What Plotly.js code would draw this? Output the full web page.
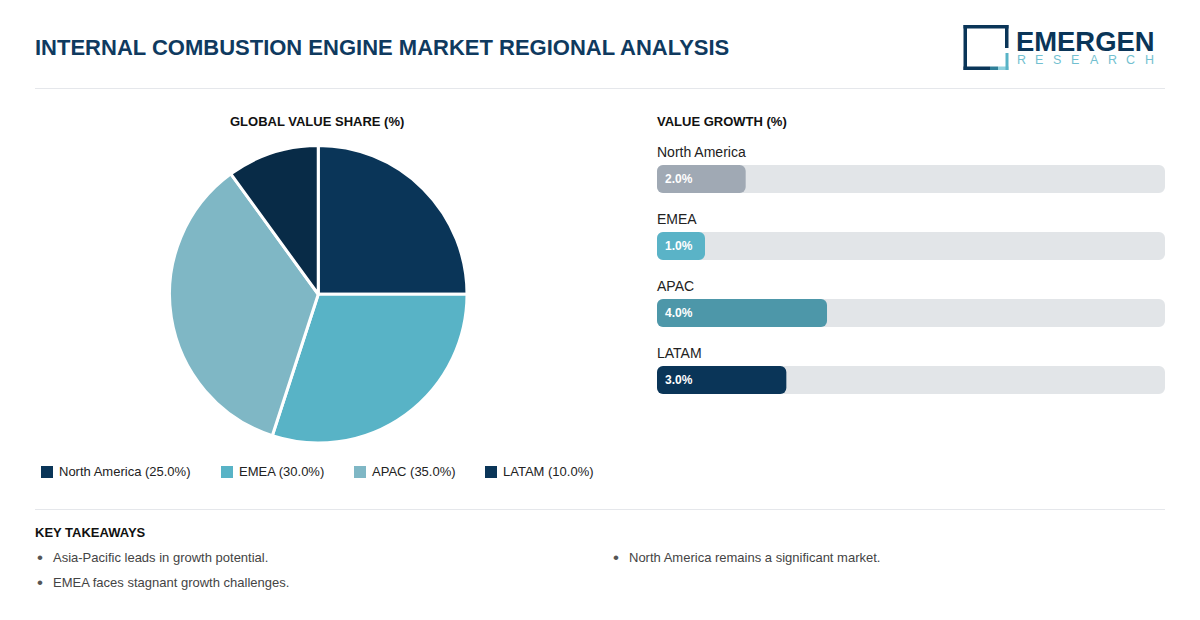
<!DOCTYPE html>
<html><head><meta charset="utf-8">
<script src="https://cdn.plot.ly/plotly-3.0.1.min.js"></script>
<style>html,body{margin:0;padding:0;background:#fff;overflow:hidden}#c{width:1200px;height:620px}</style>
</head><body><div id="c"></div>
<script>
const regions = ["North America","EMEA","APAC","LATAM"];
const shareValues = [25,30,35,10];
const shareColors = ["#0a3558","#58b3c6","#7fb7c5","#082b47"];
const growthValues = [2,1,4,3];
const barColors = ["#a0a9b4","#5ab3c7","#4d97a9","#0a3558"];
const legendSwatchX = [41,221,354,485];
const takeawaysLeft = ["Asia-Pacific leads in growth potential.","EMEA faces stagnant growth challenges."];
const takeawaysRight = ["North America remains a significant market."];
const W=1200,H=620;
const FONT='"Liberation Sans", Arial, sans-serif';
const px=x=>x/W, py=y=>1-y/H;
const axisMin=-0.18, axisMax=12.31;
const anns=[], shapes=[];
function txt(x,y,text,size,color,opt={}){anns.push(Object.assign({xref:'paper',yref:'paper',x:px(x),y:py(y),text,showarrow:false,xanchor:'left',yanchor:'middle',align:'left',borderpad:0,borderwidth:0,font:{family:FONT,size,color}},opt));}
function rule(y){shapes.push({type:'line',xref:'paper',yref:'paper',x0:px(35),x1:px(1165),y0:py(y),y1:py(y),line:{color:'#e5e7eb',width:1}});}
rule(88.5); rule(509.5);
txt(35,47.5,'<b>INTERNAL COMBUSTION ENGINE MARKET REGIONAL ANALYSIS</b>',22,'#0f3a5f');
txt(317,121.5,'<b>GLOBAL VALUE SHARE (%)</b>',13,'#111111',{xanchor:'center'});
txt(656.7,121.5,'<b>VALUE GROWTH (%)</b>',13,'#111111');
regions.forEach((r,i)=>{
  const sx=legendSwatchX[i];
  shapes.push({type:'rect',xref:'paper',yref:'paper',x0:px(sx),x1:px(sx+12),y0:py(466),y1:py(478),fillcolor:shareColors[i]==="#082b47"?"#0a3558":shareColors[i],line:{width:0}});
  txt(sx+18,471.5,`${r} (${shareValues[i].toFixed(1)}%)`,13,'#222222');
  anns.push({xref:'x',yref:'y',x:axisMin,y:r,yshift:27,xshift:-1,xanchor:'left',yanchor:'middle',showarrow:false,text:r,borderpad:0,font:{family:FONT,size:14,color:'#222222'}});
  anns.push({xref:'x',yref:'y',x:axisMin,y:r,xshift:7,xanchor:'left',yanchor:'middle',showarrow:false,text:`<b>${growthValues[i].toFixed(1)}%</b>`,borderpad:0,font:{family:FONT,size:12,color:'#ffffff'}});
});
txt(35,532.5,'<b>KEY TAKEAWAYS</b>',13,'#111111');
takeawaysLeft.forEach((t,i)=>{const y=557.5+25*i;
  txt(37,y,'•',17,'#555555');txt(53,y,t,13,'#444444');});
takeawaysRight.forEach((t,i)=>{const y=557.5+25*i;
  txt(613,y,'•',17,'#555555');txt(629,y,t,13,'#444444');});
// logo
const dark='#0a3558',teal='#58b3c6';
function box(r,c){shapes.push({type:'rect',xref:'paper',yref:'paper',x0:px(r[0]),x1:px(r[2]),y0:py(r[1]),y1:py(r[3]),fillcolor:c,line:{width:0}});}
[[963.5,25,1008.5,28.5],[963.5,25,967,70],[963.5,66.5,990,70],[1005,25,1008.5,48]].forEach(r=>box(r,dark));
box([990,66.5,998,70],'#2f7f98');
box([998,66.5,1008.5,70],'#8fd0dd');
box([1005.5,53,1008.5,70],teal);
txt(1015.5,41,'<b>EMERGEN</b>',27.4,dark);
'RESEARCH'.split('').forEach((l,i)=>txt(1016.5+i*18.3,60,l,12.5,'#72bfd0'));

const traces=[
 {type:'pie',labels:regions,values:shareValues,sort:false,direction:'clockwise',rotation:0,textinfo:'none',hoverinfo:'label+percent',
  marker:{colors:shareColors,line:{color:'#ffffff',width:3}},domain:{x:[px(169.5),px(467)],y:[py(443),py(145.5)]}},
 {type:'bar',orientation:'h',y:regions,x:regions.map(()=>axisMax-axisMin),base:axisMin,marker:{color:'#e2e5e8'},width:28/67,hoverinfo:'skip',xaxis:'x',yaxis:'y'},
 {type:'bar',orientation:'h',y:regions,x:growthValues.map(v=>v-axisMin),base:axisMin,marker:{color:barColors},width:28/67,hoverinfo:'skip',xaxis:'x',yaxis:'y'}
];
const layout={width:W,height:H,margin:{l:0,r:0,t:0,b:0},paper_bgcolor:'#fff',plot_bgcolor:'rgba(0,0,0,0)',showlegend:false,barmode:'overlay',barcornerradius:6,
 xaxis:{domain:[px(657),px(1165)],range:[axisMin,axisMax],visible:false,fixedrange:true},
 yaxis:{domain:[py(413.5),py(145.5)],type:'category',categoryorder:'array',categoryarray:regions,range:[3.5,-0.5],visible:false,fixedrange:true},
 annotations:anns,shapes};
Plotly.newPlot('c',traces,layout,{displayModeBar:false,staticPlot:true});
</script></body></html>
